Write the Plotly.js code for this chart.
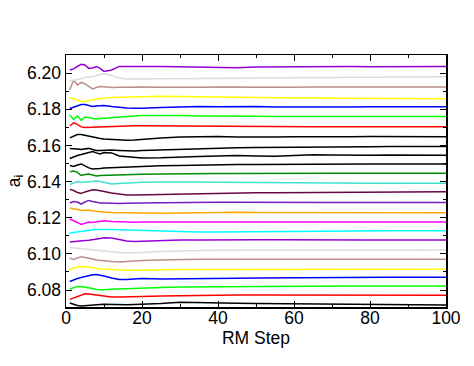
<!DOCTYPE html>
<html>
<head>
<meta charset="utf-8">
<script src="https://cdn.plot.ly/plotly-3.0.1.min.js"></script>
<style>html,body{margin:0;padding:0;background:#fff;}#chart{width:474px;height:366px;}</style>
</head>
<body>
<div id="chart"></div>
<script>
// RM step at which each a_i value was read
const steps = [1,2,3,4,5,6,7,8,9,10,12,14,16,18,20,25,30,35,40,45,50,55,60,65,70,75,80,85,90,95,100];

// a_i series, bottom (i=1) to top (i=26)
const a01 = [6.0728,6.0720,6.0714,6.0712,6.0714,6.0717,6.0715,6.0717,6.0720,6.0721,6.0720,6.0717,6.0718,6.0720,6.0721,6.0725,6.0732,6.0729,6.0727,6.0727,6.0725,6.0724,6.0725,6.0724,6.0723,6.0723,6.0721,6.0720,6.0719,6.0718,6.0717];
const a02 = [6.0748,6.0756,6.0767,6.0775,6.0779,6.0778,6.0775,6.0772,6.0767,6.0764,6.0762,6.0761,6.0761,6.0762,6.0764,6.0767,6.0769,6.0770,6.0771,6.0772,6.0772,6.0772,6.0774,6.0774,6.0774,6.0772,6.0772,6.0772,6.0771,6.0771,6.0771];
const a03 = [6.0806,6.0814,6.0820,6.0820,6.0817,6.0814,6.0808,6.0803,6.0800,6.0801,6.0804,6.0806,6.0807,6.0810,6.0811,6.0814,6.0817,6.0818,6.0818,6.0820,6.0820,6.0821,6.0821,6.0821,6.0822,6.0822,6.0822,6.0822,6.0822,6.0822,6.0822];
const a04 = [6.0847,6.0856,6.0864,6.0869,6.0875,6.0880,6.0884,6.0886,6.0883,6.0878,6.0867,6.0858,6.0858,6.0862,6.0864,6.0861,6.0861,6.0863,6.0864,6.0865,6.0867,6.0868,6.0868,6.0869,6.0869,6.0870,6.0870,6.0870,6.0870,6.0870,6.0870];
const a05 = [6.0911,6.0922,6.0927,6.0930,6.0930,6.0927,6.0925,6.0920,6.0916,6.0915,6.0912,6.0911,6.0910,6.0910,6.0911,6.0912,6.0913,6.0914,6.0914,6.0915,6.0915,6.0915,6.0915,6.0915,6.0915,6.0915,6.0915,6.0915,6.0915,6.0915,6.0915];
const a06 = [6.0977,6.0969,6.0977,6.0984,6.0980,6.0977,6.0972,6.0966,6.0963,6.0961,6.0958,6.0955,6.0958,6.0961,6.0963,6.0966,6.0969,6.0970,6.0970,6.0969,6.0970,6.0971,6.0971,6.0970,6.0970,6.0970,6.0970,6.0971,6.0970,6.0970,6.0970];
const a07 = [6.1035,6.1033,6.1030,6.1027,6.1024,6.1022,6.1020,6.1018,6.1016,6.1014,6.1011,6.1008,6.1007,6.1007,6.1008,6.1013,6.1017,6.1019,6.1020,6.1020,6.1021,6.1022,6.1022,6.1022,6.1022,6.1022,6.1022,6.1022,6.1022,6.1022,6.1022];
const a08 = [6.1066,6.1069,6.1071,6.1073,6.1074,6.1075,6.1077,6.1080,6.1085,6.1089,6.1088,6.1080,6.1071,6.1068,6.1070,6.1074,6.1077,6.1077,6.1076,6.1077,6.1078,6.1078,6.1077,6.1077,6.1077,6.1077,6.1077,6.1077,6.1077,6.1077,6.1077];
const a09 = [6.1116,6.1119,6.1124,6.1128,6.1131,6.1132,6.1133,6.1135,6.1136,6.1136,6.1135,6.1133,6.1132,6.1131,6.1128,6.1125,6.1122,6.1121,6.1121,6.1122,6.1124,6.1125,6.1127,6.1127,6.1128,6.1128,6.1128,6.1128,6.1128,6.1128,6.1128];
const a10 = [6.1193,6.1185,6.1174,6.1163,6.1171,6.1177,6.1174,6.1177,6.1182,6.1183,6.1179,6.1177,6.1175,6.1175,6.1177,6.1178,6.1178,6.1177,6.1177,6.1176,6.1177,6.1178,6.1178,6.1178,6.1177,6.1177,6.1177,6.1177,6.1177,6.1177,6.1177];
const a11 = [6.1254,6.1251,6.1246,6.1240,6.1243,6.1243,6.1238,6.1235,6.1233,6.1232,6.1229,6.1228,6.1228,6.1226,6.1226,6.1225,6.1226,6.1228,6.1229,6.1230,6.1229,6.1229,6.1230,6.1229,6.1228,6.1228,6.1229,6.1228,6.1228,6.1228,6.1228];
const a12 = [6.1282,6.1290,6.1287,6.1276,6.1287,6.1296,6.1290,6.1285,6.1282,6.1282,6.1279,6.1279,6.1280,6.1282,6.1282,6.1283,6.1285,6.1285,6.1286,6.1286,6.1285,6.1285,6.1286,6.1286,6.1285,6.1285,6.1285,6.1284,6.1284,6.1284,6.1284];
const a13 = [6.1357,6.1351,6.1340,6.1334,6.1343,6.1351,6.1355,6.1354,6.1351,6.1346,6.1337,6.1330,6.1326,6.1326,6.1327,6.1329,6.1332,6.1334,6.1336,6.1337,6.1338,6.1339,6.1340,6.1341,6.1342,6.1343,6.1344,6.1344,6.1344,6.1344,6.1344];
const a14 = [6.1384,6.1393,6.1401,6.1395,6.1398,6.1401,6.1404,6.1404,6.1401,6.1395,6.1387,6.1390,6.1393,6.1395,6.1396,6.1398,6.1399,6.1398,6.1396,6.1395,6.1394,6.1393,6.1393,6.1391,6.1391,6.1391,6.1391,6.1391,6.1391,6.1391,6.1391];
const a15 = [6.1454,6.1459,6.1451,6.1434,6.1440,6.1442,6.1437,6.1431,6.1434,6.1435,6.1437,6.1437,6.1439,6.1440,6.1441,6.1442,6.1444,6.1444,6.1445,6.1445,6.1446,6.1446,6.1445,6.1446,6.1447,6.1446,6.1446,6.1447,6.1446,6.1446,6.1446];
const a16 = [6.1489,6.1484,6.1492,6.1498,6.1487,6.1476,6.1470,6.1470,6.1473,6.1476,6.1478,6.1481,6.1482,6.1484,6.1485,6.1488,6.1489,6.1492,6.1493,6.1495,6.1495,6.1496,6.1495,6.1496,6.1497,6.1498,6.1498,6.1497,6.1498,6.1498,6.1498];
const a17 = [6.1528,6.1537,6.1545,6.1550,6.1556,6.1561,6.1567,6.1559,6.1553,6.1561,6.1559,6.1542,6.1537,6.1532,6.1531,6.1532,6.1537,6.1539,6.1542,6.1545,6.1542,6.1540,6.1545,6.1549,6.1548,6.1545,6.1546,6.1548,6.1546,6.1546,6.1546];
const a18 = [6.1584,6.1584,6.1581,6.1578,6.1581,6.1584,6.1578,6.1573,6.1573,6.1575,6.1575,6.1573,6.1570,6.1570,6.1573,6.1576,6.1581,6.1585,6.1586,6.1587,6.1589,6.1589,6.1590,6.1592,6.1592,6.1593,6.1593,6.1594,6.1594,6.1594,6.1594];
const a19 = [6.1642,6.1653,6.1661,6.1661,6.1656,6.1653,6.1647,6.1642,6.1639,6.1636,6.1633,6.1631,6.1629,6.1631,6.1635,6.1642,6.1647,6.1650,6.1650,6.1647,6.1646,6.1647,6.1649,6.1648,6.1647,6.1648,6.1650,6.1649,6.1648,6.1649,6.1649];
const a20 = [6.1708,6.1725,6.1717,6.1703,6.1700,6.1701,6.1701,6.1700,6.1701,6.1703,6.1705,6.1707,6.1708,6.1709,6.1709,6.1708,6.1707,6.1707,6.1705,6.1705,6.1707,6.1705,6.1704,6.1704,6.1704,6.1705,6.1705,6.1704,6.1704,6.1704,6.1704];
const a21 = [6.1769,6.1744,6.1764,6.1739,6.1758,6.1755,6.1750,6.1747,6.1750,6.1752,6.1756,6.1758,6.1761,6.1764,6.1766,6.1767,6.1766,6.1764,6.1762,6.1764,6.1762,6.1761,6.1760,6.1761,6.1762,6.1761,6.1760,6.1761,6.1762,6.1761,6.1760];
const a22 = [6.1805,6.1813,6.1822,6.1827,6.1827,6.1822,6.1816,6.1819,6.1822,6.1822,6.1816,6.1811,6.1808,6.1806,6.1806,6.1811,6.1815,6.1816,6.1815,6.1817,6.1816,6.1813,6.1812,6.1813,6.1812,6.1813,6.1815,6.1813,6.1815,6.1815,6.1815];
const a23 = [6.1866,6.1858,6.1849,6.1844,6.1844,6.1849,6.1855,6.1858,6.1860,6.1863,6.1866,6.1867,6.1869,6.1869,6.1870,6.1872,6.1870,6.1870,6.1869,6.1867,6.1866,6.1864,6.1863,6.1862,6.1862,6.1862,6.1860,6.1860,6.1860,6.1859,6.1859];
const a24 = [6.1908,6.1963,6.1935,6.1949,6.1941,6.1927,6.1913,6.1921,6.1927,6.1925,6.1921,6.1922,6.1924,6.1925,6.1924,6.1922,6.1921,6.1922,6.1924,6.1923,6.1921,6.1921,6.1922,6.1924,6.1924,6.1923,6.1922,6.1922,6.1923,6.1924,6.1924];
const a25 = [6.1955,6.1960,6.1968,6.1974,6.1977,6.1980,6.1982,6.1988,6.1993,6.1997,6.1988,6.1974,6.1968,6.1968,6.1968,6.1968,6.1970,6.1971,6.1971,6.1972,6.1973,6.1974,6.1974,6.1975,6.1976,6.1977,6.1978,6.1978,6.1980,6.1981,6.1981];
const a26 = [6.2018,6.2024,6.2038,6.2049,6.2046,6.2027,6.2029,6.2037,6.2027,6.2010,6.2018,6.2038,6.2038,6.2039,6.2038,6.2038,6.2036,6.2035,6.2033,6.2031,6.2035,6.2036,6.2037,6.2036,6.2039,6.2037,6.2036,6.2037,6.2035,6.2037,6.2037];

const series = [a01,a02,a03,a04,a05,a06,a07,a08,a09,a10,a11,a12,a13,a14,a15,a16,a17,a18,a19,a20,a21,a22,a23,a24,a25,a26];
const colors = ['#000000','#ff0000','#00ff00','#0000ff','#ffff00','#bc8f8f','#dcdcdc','#9400d3','#00ffff','#ff00ff','#ffa500','#7221bc','#670748','#40e0d0','#008b00','#000000','#000000','#000000','#000000','#ff0000','#00ff00','#0000ff','#ffff00','#bc8f8f','#dcdcdc','#9400d3'];

const traces = series.map((ys, i) => ({
  x: steps, y: ys, type: 'scatter', mode: 'lines',
  line: {color: colors[i], width: 1.5}, hoverinfo: 'skip', showlegend: false
}));

const layout = {
  width: 474, height: 366,
  margin: {l: 66, r: 28, t: 55, b: 59},
  paper_bgcolor: '#ffffff', plot_bgcolor: '#ffffff',
  font: {family: 'Liberation Sans, Arial, sans-serif', color: '#000', size: 17.5},
  xaxis: {
    range: [0, 100], dtick: 20, tick0: 0,
    ticks: 'inside', ticklen: 6, tickwidth: 1, tickcolor: '#000',
    minor: {dtick: 10, ticks: 'inside', ticklen: 3, tickcolor: '#000', showgrid: false},
    showgrid: false, zeroline: false, showline: true, linecolor: '#000', linewidth: 1.5, mirror: 'allticks',
    tickfont: {size: 17.5}, ticklabelstandoff: -6,
    title: {text: 'RM Step', font: {size: 17.5}, standoff: 0}
  },
  yaxis: {
    range: [6.0706, 6.2101], dtick: 0.02, tick0: 6.0, tickformat: '.2f',
    ticks: 'inside', ticklen: 6, tickwidth: 1, tickcolor: '#000',
    minor: {dtick: 0.01, ticks: 'inside', ticklen: 3, tickcolor: '#000', showgrid: false},
    showgrid: false, zeroline: false, showline: true, linecolor: '#000', linewidth: 1.5, mirror: 'allticks',
    tickfont: {size: 17.5},
    title: {text: 'a<sub>i</sub>', font: {size: 17.5}, standoff: 2}
  }
};

Plotly.newPlot('chart', traces, layout, {displayModeBar: false, staticPlot: true});
</script>
</body>
</html>
